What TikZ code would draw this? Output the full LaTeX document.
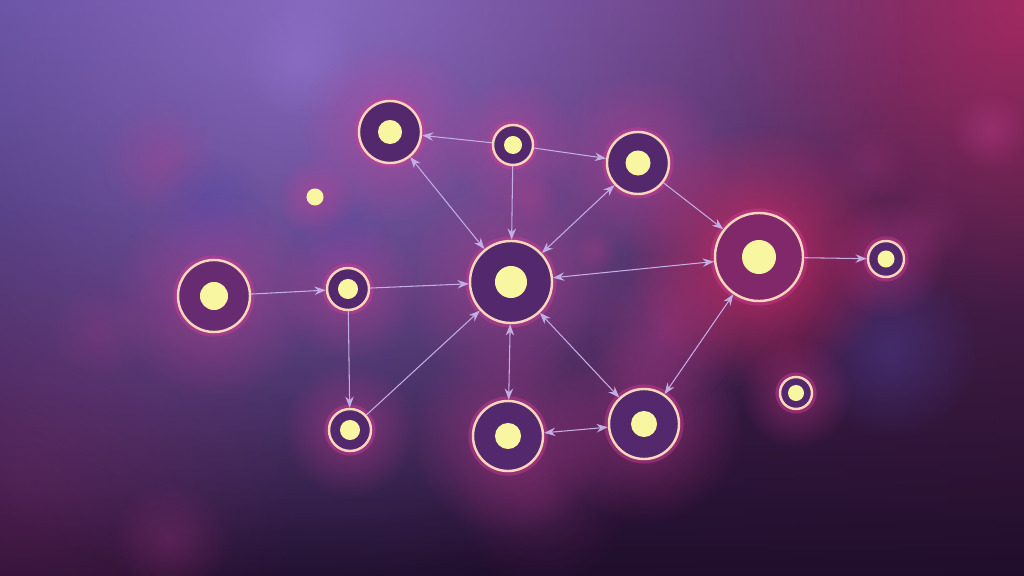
\documentclass[tikz,border=0pt]{standalone}
\usetikzlibrary{arrows.meta,fadings}

\definecolor{ringcol}{RGB}{247,214,188}
\definecolor{dotcol}{RGB}{249,246,162}
\definecolor{edgecol}{RGB}{196,172,228}
\definecolor{glowcol}{RGB}{214,60,150}
\definecolor{hotglow}{RGB}{232,40,100}
\definecolor{hubfill}{RGB}{84,40,108}
\definecolor{bgleft}{RGB}{86,64,142}
\definecolor{bgright}{RGB}{104,44,96}
\definecolor{bgdark}{RGB}{28,12,40}
\definecolor{lavender}{RGB}{150,122,212}
\definecolor{bokehpink}{RGB}{190,60,140}
\definecolor{bokehblue}{RGB}{80,70,170}

\tikzfading[name=soft, inner color=transparent!0, outer color=transparent!100]

\tikzset{
  hub/.style 2 args={circle, draw=ringcol, line width=0.7pt, fill=hubfill,
    minimum size=#1, inner sep=0pt,
    preaction={draw=glowcol, line width=2.6pt, draw opacity=0.4},
    path picture={\fill[dotcol] (path picture bounding box.center) circle (#2);}},
  link/.style={draw=edgecol, line width=0.3pt, -{Stealth[length=3.2pt,width=2.4pt]}},
  twoway/.style={link, {Stealth[length=3.2pt,width=2.4pt]}-{Stealth[length=3.2pt,width=2.4pt]}},
  spot/.style={fill=#1, path fading=soft},
}

\begin{document}
\begin{tikzpicture}[x=0.01cm, y=-0.01cm]
\useasboundingbox (0,0) rectangle (1024,576);

% background
\shade[left color=bgleft, right color=bgright] (0,0) rectangle (1024,576);
\fill[bgdark, path fading=north, opacity=0.95] (0,0) rectangle (1024,576);
\fill[spot=lavender, opacity=0.75] (310,0) circle (600);
\fill[spot=hotglow, opacity=0.45] (1024,10) circle (300);
\fill[spot=bokehpink, opacity=0.25] (20,480) circle (280);
\foreach \x/\y/\r/\c/\o in {160/160/60/bokehpink/0.3, 210/210/60/bokehblue/0.45,
    340/240/50/bokehblue/0.35, 530/200/30/bokehpink/0.3, 595/250/22/bokehpink/0.3,
    665/330/76/bokehpink/0.45, 890/350/90/bokehblue/0.4, 990/130/40/bokehpink/0.4,
    870/165/40/bokehpink/0.2, 930/225/40/bokehpink/0.2, 100/330/50/bokehpink/0.2,
    540/500/90/bokehpink/0.2, 170/540/60/bokehpink/0.25, 300/60/60/lavender/0.4}
  \fill[spot=\c, opacity=\o] (\x,\y) circle (\r);

% glow under the hubs
\foreach \x/\y/\r in {390/132/92, 513/145/68, 638/163/92, 511/282/110,
    886/259/60, 214/296/104, 348/289/72, 350/430/68, 508/436/100,
    644/424/100, 796/393/56, 315/197/40}
  \fill[spot=glowcol, opacity=0.45] (\x,\y) circle (\r);
\fill[spot=hotglow, opacity=0.75] (759,257) circle (132);

% hubs
\node[hub={0.62cm}{0.12cm}] (a) at (390,132) {};
\node[hub={0.40cm}{0.09cm}] (b) at (513,145) {};
\node[hub={0.62cm}{0.125cm}] (c) at (638,163) {};
\node[hub={0.82cm}{0.16cm}] (d) at (511,282) {};
\node[hub={0.88cm}{0.17cm}, fill=hubfill!70!hotglow] (e) at (759,257) {};
\node[hub={0.36cm}{0.085cm}] (f) at (886,259) {};
\node[hub={0.72cm}{0.14cm}, fill=hubfill!85!glowcol] (g) at (214,296) {};
\node[hub={0.42cm}{0.10cm}] (h) at (348,289) {};
\node[hub={0.42cm}{0.10cm}] (i) at (350,430) {};
\node[hub={0.70cm}{0.13cm}] (j) at (508,436) {};
\node[hub={0.70cm}{0.13cm}] (k) at (644,424) {};
\node[hub={0.32cm}{0.08cm}] (l) at (796,393) {};
\node[circle, fill=dotcol, minimum size=0.17cm, inner sep=0pt] (m) at (315,197) {};

% links
\draw[link] (b) -- (a);
\draw[link] (b) -- (c);
\draw[twoway] (a) -- (d);
\draw[link] (b) -- (d);
\draw[twoway] (c) -- (d);
\draw[link] (c) -- (e);
\draw[twoway] (e) -- (d);
\draw[link] (g) -- (h);
\draw[link] (h) -- (d);
\draw[link] (h) -- (i);
\draw[link] (i) -- (d);
\draw[twoway] (d) -- (j);
\draw[twoway] (d) -- (k);
\draw[twoway] (k) -- (j);
\draw[twoway] (k) -- (e);
\draw[link] (e) -- (f);
\end{tikzpicture}
\end{document}
